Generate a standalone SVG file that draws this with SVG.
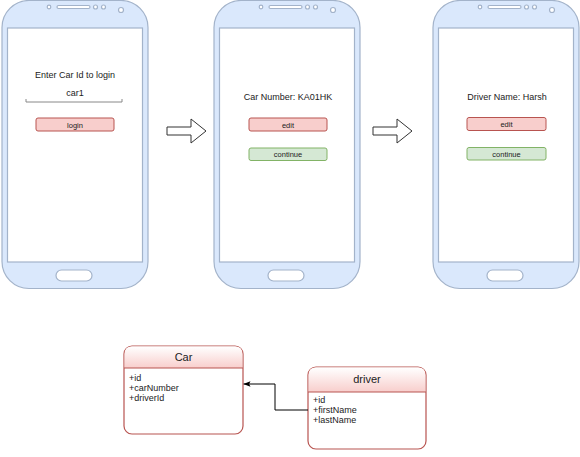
<svg xmlns="http://www.w3.org/2000/svg" width="580" height="457" viewBox="0 0 580 457">
<style>
.ph{fill:#dae8fc;stroke:#a3b3ca;stroke-width:1.2}
.scr{fill:#ffffff;stroke:#a3b3ca;stroke-width:1.2}
.t{font-family:"Liberation Sans",Arial,sans-serif;fill:#222;text-anchor:middle}
.red{fill:#f8cecc;stroke:#b85450;stroke-width:1}
.grn{fill:#d5e8d4;stroke:#82b366;stroke-width:1}
.blk{fill:#ffffff;stroke:#333;stroke-width:1}
.cls{fill:#ffffff;stroke:#b85450;stroke-width:1.2}
.a{font-family:"Liberation Sans",Arial,sans-serif;font-size:9px;fill:#222}
</style>
<defs>
<linearGradient id="hg" x1="0" y1="0" x2="0" y2="1">
<stop offset="0" stop-color="#ffffff"/>
<stop offset="1" stop-color="#f8cecc"/>
</linearGradient>
<g id="phone">
<rect class="ph" x="0" y="0.5" width="146" height="288" rx="27" ry="27"/>
<rect class="scr" x="5.5" y="28" width="135" height="234"/>
<circle class="scr" cx="47" cy="7" r="1.8"/>
<rect class="scr" x="55" y="5.5" width="33" height="3" rx="1.5"/>
<circle class="scr" cx="93.5" cy="7" r="2"/>
<circle class="scr" cx="101.5" cy="7" r="2"/>
<circle class="scr" cx="119" cy="10" r="2.5"/>
<rect class="scr" x="54" y="270" width="36" height="11" rx="5.5"/>
</g>
<marker id="ah" viewBox="0 0 10 10" refX="10" refY="5" markerWidth="7" markerHeight="7" orient="auto">
<path d="M0,1 L10,5 L0,9 L2,5 Z" fill="#000"/>
</marker>
</defs>

<g id="phone1">
<use href="#phone" x="2" y="0"/>
<text class="t" x="75" y="77.5" font-size="9">Enter Car Id to login</text>
<text class="t" x="75" y="96" font-size="9">car1</text>
<path d="M26,99 L26,102 L122,102 L122,99" fill="none" stroke="#888" stroke-width="1"/>
<rect class="red" x="36" y="118" width="78" height="13" rx="2"/>
<text class="t" x="75" y="127.5" font-size="7.5">login</text>
</g>

<g id="phone2">
<use href="#phone" x="214" y="0"/>
<text class="t" x="288" y="99.5" font-size="9">Car Number: KA01HK</text>
<rect class="red" x="249" y="118" width="78" height="13" rx="2"/>
<text class="t" x="288" y="127.5" font-size="7.5">edit</text>
<rect class="grn" x="249" y="148" width="78" height="12.5" rx="2"/>
<text class="t" x="288" y="157.3" font-size="7.5">continue</text>
</g>

<g id="phone3">
<use href="#phone" x="433" y="0"/>
<text class="t" x="507" y="99.5" font-size="9">Driver Name: Harsh</text>
<rect class="red" x="467" y="117.5" width="79" height="13" rx="2"/>
<text class="t" x="506.5" y="127" font-size="7.5">edit</text>
<rect class="grn" x="467" y="147.5" width="79" height="12.5" rx="2"/>
<text class="t" x="506.5" y="156.8" font-size="7.5">continue</text>
</g>

<g id="arrow1">
<path class="blk" d="M167,127 L191,127 L191,119 L206,131 L191,143 L191,135 L167,135 Z"/>
</g>
<g id="arrow2">
<path class="blk" d="M373,127 L397,127 L397,119 L412,131 L397,143 L397,135 L373,135 Z"/>
</g>

<g id="car">
<rect class="cls" x="124" y="346" width="119" height="88" rx="8"/>
<path d="M124.6,368 L124.6,354 Q124.6,346.6 132,346.6 L235,346.6 Q242.4,346.6 242.4,354 L242.4,368 Z" fill="url(#hg)"/>
<line x1="124" y1="368" x2="243" y2="368" stroke="#b85450" stroke-width="1"/>
<text class="t" x="183.5" y="361" font-size="11">Car</text>
<text class="a" x="129" y="381">+id</text>
<text class="a" x="129" y="391">+carNumber</text>
<text class="a" x="129" y="400.5">+driverId</text>
</g>

<g id="driver">
<rect class="cls" x="308" y="367" width="118" height="82" rx="8"/>
<path d="M308.6,392 L308.6,375 Q308.6,367.6 316,367.6 L418,367.6 Q425.4,367.6 425.4,375 L425.4,392 Z" fill="url(#hg)"/>
<line x1="308" y1="392" x2="426" y2="392" stroke="#b85450" stroke-width="1"/>
<text class="t" x="367" y="383" font-size="11">driver</text>
<text class="a" x="313" y="403">+id</text>
<text class="a" x="313" y="413">+firstName</text>
<text class="a" x="313" y="423">+lastName</text>
</g>

<g id="connectors">
<path d="M308,410 L275,410 L275,384 L243.5,384" fill="none" stroke="#000" stroke-width="1" marker-end="url(#ah)"/>
</g>
</svg>
